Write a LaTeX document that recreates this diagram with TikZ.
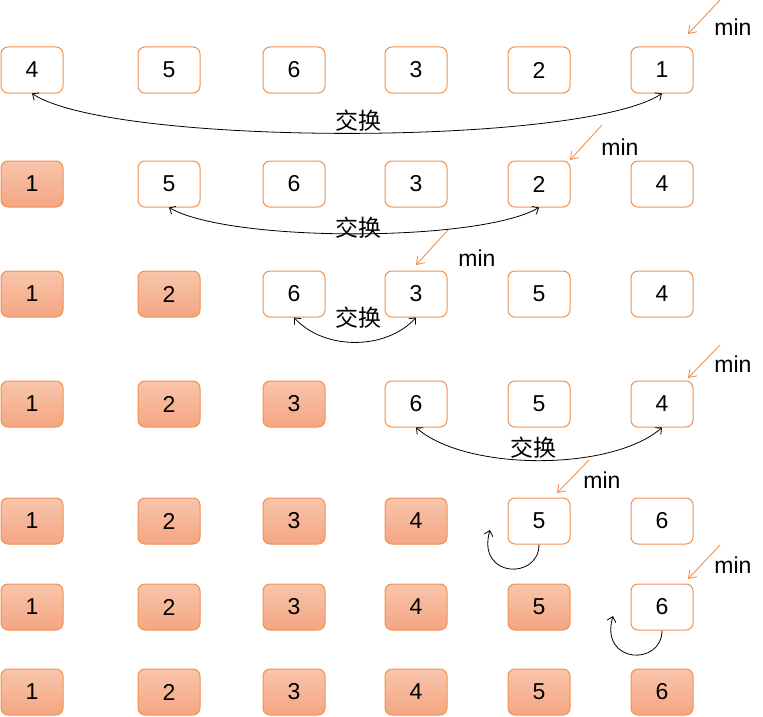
\documentclass[tikz,border=0pt]{standalone}
\usepackage{fontspec}
\setmainfont{Liberation Sans}
\newfontfamily\cjk{Noto Sans CJK SC}
\usetikzlibrary{arrows.meta}

\definecolor{boxline}{RGB}{240,145,80}
\definecolor{filltop}{RGB}{248,197,172}
\definecolor{fillbot}{RGB}{244,166,130}

\tikzset{
    cell/.style={draw=boxline,line width=1pt,rounded corners=7pt,minimum width=62pt,minimum height=46pt,inner sep=0pt,font=\fontsize{23}{27}\selectfont},
    unsorted/.style={cell,fill=white},
    sorted/.style={cell,top color=filltop,bottom color=fillbot},
    swapline/.style={black,line width=0.8pt,{Straight Barb[length=5pt,width=9pt]}-{Straight Barb[length=5pt,width=9pt]}},
    selfline/.style={black,line width=0.8pt,-{Straight Barb[length=5pt,width=9pt]}},
    minarrow/.style={boxline,line width=0.9pt,-{Straight Barb[length=7pt,width=10pt]}},
    swaptext/.style={font=\cjk\fontsize{23}{27}\selectfont,inner sep=0pt},
    mintext/.style={font=\fontsize{23}{27}\selectfont,inner sep=0pt}
}

\begin{document}
\begin{tikzpicture}[x=1pt,y=-1pt]
    \useasboundingbox (0,0) rectangle (763,717);

    % the seven rows of cells, the first (r-1) cells of row r are sorted
    \foreach \r/\y/\vals in {1/70/{4,5,6,3,2,1},2/184/{1,5,6,3,2,4},3/294/{1,2,6,3,5,4},
                             4/404/{1,2,3,6,5,4},5/521/{1,2,3,4,5,6},6/607/{1,2,3,4,5,6},
                             7/692/{1,2,3,4,5,6}}{
        \foreach \v [count=\c] in \vals {
            \pgfmathsetmacro\x{{32,169,294,416,539,662}[\c-1]}
            \ifnum\c<\r \def\st{sorted}\else\def\st{unsorted}\fi
            \node[\st] (r\r c\c) at (\x,\y) {\v};
        }
    }

    % swaps
    \draw[swapline] (r1c1.south) .. controls +(80,53) and +(-80,53) .. (r1c6.south);
    \node[swaptext] (s1) at (358,121) {交换};
    \draw[swapline] (r2c2.south) .. controls +(60,35) and +(-60,35) .. (r2c5.south);
    \node[swaptext] (s2) at (358,228) {交换};
    \draw[swapline] (r3c3.south) .. controls +(30,33) and +(-30,33) .. (r3c4.south);
    \node[swaptext] (s3) at (358,318) {交换};
    \draw[swapline] (r4c4.south) .. controls +(50,44) and +(-50,44) .. (r4c6.south);
    \node[swaptext] (s4) at (533,448) {交换};

    % min element swapped with itself
    \coordinate (e5) at (490,530);
    \draw[selfline] (r5c5.south) .. controls +(0,36) and +(-14,48) .. (e5);
    \coordinate (e6) at (613,616);
    \draw[selfline] (r6c6.south) .. controls +(0,36) and +(-14,48) .. (e6);

    % min markers
    \coordinate (m1) at (720,0);    \coordinate (t1) at (688,34);
    \draw[minarrow] (m1) -- (t1);
    \node[mintext] (n1) at (733,27) {min};
    \coordinate (m2) at (602,125);  \coordinate (t2) at (570,160);
    \draw[minarrow] (m2) -- (t2);
    \node[mintext] (n2) at (620,147) {min};
    \coordinate (m3) at (448,230);  \coordinate (t3) at (416,265);
    \draw[minarrow] (m3) -- (t3);
    \node[mintext] (n3) at (477,258) {min};
    \coordinate (m4) at (720,345);  \coordinate (t4) at (688,378);
    \draw[minarrow] (m4) -- (t4);
    \node[mintext] (n4) at (733,364) {min};
    \coordinate (m5) at (589,460);  \coordinate (t5) at (557,493);
    \draw[minarrow] (m5) -- (t5);
    \node[mintext] (n5) at (602,480) {min};
    \coordinate (m6) at (720,545);  \coordinate (t6) at (688,579);
    \draw[minarrow] (m6) -- (t6);
    \node[mintext] (n6) at (733,565) {min};
\end{tikzpicture}
\end{document}
